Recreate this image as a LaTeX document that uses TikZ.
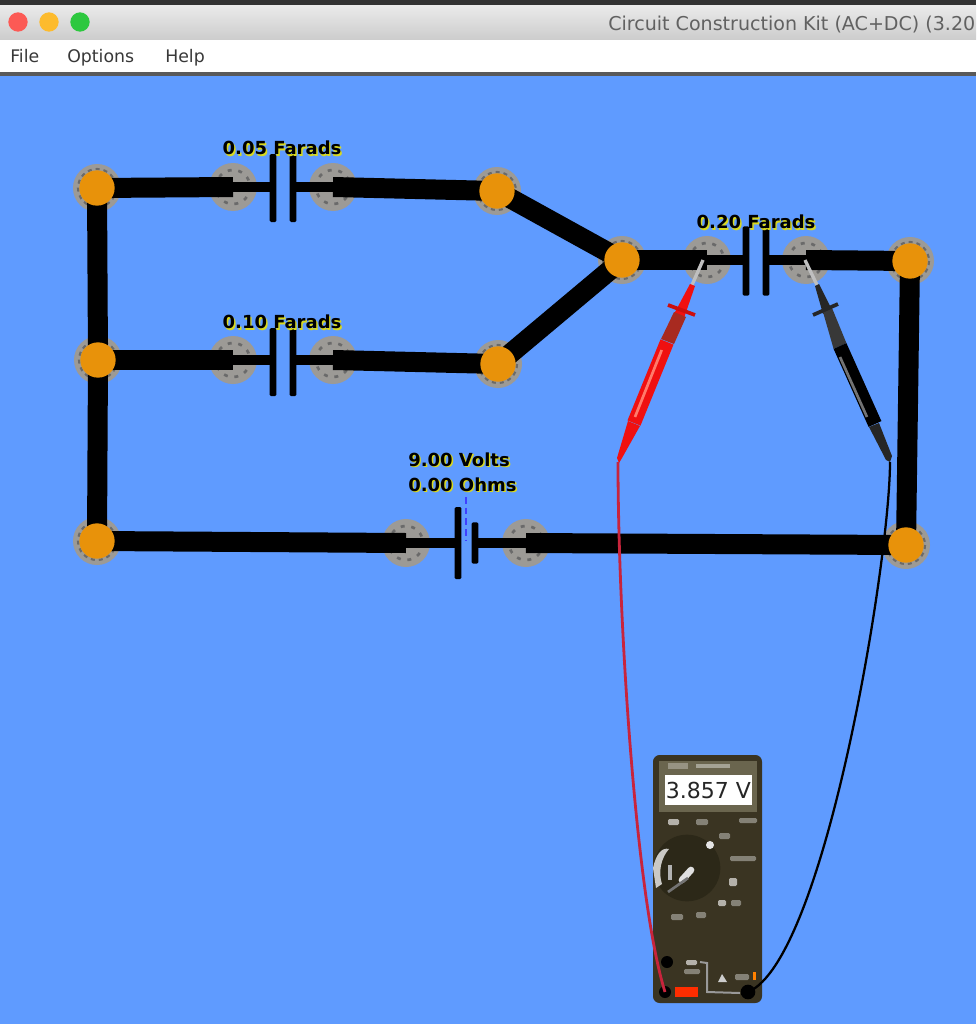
\documentclass[tikz,border=0pt]{standalone}
\usepackage{fontspec}
\setmainfont{DejaVu Sans}
\usetikzlibrary{calc}
\definecolor{bluebg}{HTML}{5F9BFF}
\definecolor{hubor}{HTML}{E8920A}
\definecolor{ringgr}{HTML}{9C9A96}
\definecolor{dashgr}{HTML}{6A6A6A}
\definecolor{meterbk}{HTML}{3A3422}
\definecolor{meterpn}{HTML}{6A654E}
\definecolor{dialbk}{HTML}{2C2818}
\definecolor{labyl}{HTML}{D8D820}
\definecolor{btnred}{HTML}{FC5A55}
\definecolor{btnyel}{HTML}{FDBB2D}
\definecolor{btngrn}{HTML}{2DC83F}
\definecolor{redwire}{HTML}{C8243C}
\definecolor{redprobe}{HTML}{F01010}
\definecolor{redshade}{HTML}{A82A20}
\definecolor{redlight}{HTML}{FF7A6A}
\tikzset{
  x=.75pt,y=-.75pt,
  ringnode/.style={circle,fill=ringgr,inner sep=0pt,minimum size=36pt},
  termnode/.style={circle,fill=ringgr,inner sep=0pt,minimum size=36pt},
  hubnode/.style={circle,fill=hubor,inner sep=0pt,minimum size=26.5pt},
  termdots/.style={draw=dashgr,line width=2pt,dash pattern=on 3pt off 5pt},
  hubdots/.style={draw=dashgr,line width=1.6pt,dash pattern=on 3pt off 3pt},
  wire/.style={line width=15pt,black},
  lead/.style={line width=7pt,black},
  plate/.style={fill=black,inner sep=0pt,minimum width=5pt,rounded corners=1pt},
  vlabel/.style={font=\bfseries\fontsize{13.5}{15}\selectfont,inner sep=0pt,text=black},
  menuitem/.style={font=\fontsize{13}{14}\selectfont,text=black!78,inner sep=0pt,anchor=base west},
  glow/.style={fill=white,opacity=.62,rounded corners=1pt},
  dimglow/.style={fill=white,opacity=.38,rounded corners=1pt},
}
\newcommand{\halo}[1]{\rlap{\kern1.1pt\raisebox{-1.1pt}{\textcolor{labyl}{#1}}}#1}
\begin{document}
\begin{tikzpicture}
\useasboundingbox (0,0) rectangle (976,1024);
\fill[bluebg] (0,0) rectangle (976,1024);
% window chrome
\shade[top color=white!92!black,bottom color=white!80!black] (0,5) rectangle (976,40);
\fill[black!80] (0,0) rectangle (976,5);
\fill[white] (0,40) rectangle (976,72);
\fill[black!65] (0,72) rectangle (976,76);
\node[circle,fill=btnred,minimum size=14.5pt,inner sep=0pt] (btnr) at (18,22) {};
\node[circle,fill=btnyel,minimum size=14.5pt,inner sep=0pt] (btny) at (49,22) {};
\node[circle,fill=btngrn,minimum size=14.5pt,inner sep=0pt] (btng) at (80,22) {};
\begin{scope}
\clip (0,0) rectangle (976,1024);
\node[font=\fontsize{14.3}{16}\selectfont,text=black!62,inner sep=0pt,anchor=base west] (title) at (608,31) {Circuit Construction Kit (AC+DC) (3.20};
\end{scope}
\node[menuitem] (mfile) at (10,63) {File};
\node[menuitem] (mopt) at (67,63) {Options};
\node[menuitem] (mhelp) at (165,63) {Help};
% rings at junctions
\foreach \n/\x/\y in {r1/97/188,r2/497/191,r3/622/260,r4/910/261,r5/98/360,r6/498/364,r7/97/541,r8/906/545}{
  \node[ringnode] (\n) at (\x,\y) {};
  \draw[hubdots] (\x,\y) circle (19);
}
% capacitor/battery terminals
\foreach \n/\x/\y in {a1/233/187,a2/333/187,b1/233/360,b2/333/360,c1/707/260,c2/806/260,d1/406/543,d2/526/543}{
  \node[termnode] (\n) at (\x,\y) {};
  \draw[termdots] (\x,\y) circle (17);
}
% plates
\node[plate,minimum height=51pt] (pa1) at (273,188) {};
\node[plate,minimum height=51pt] (pa2) at (293,188) {};
\node[plate,minimum height=51pt] (pb1) at (273,362) {};
\node[plate,minimum height=51pt] (pb2) at (293,362) {};
\node[plate,minimum height=52pt] (pc1) at (746,261) {};
\node[plate,minimum height=52pt] (pc2) at (766,261) {};
\node[plate,minimum height=54pt] (pd1) at (458,543) {};
\node[plate,minimum height=31pt] (pd2) at (475,543) {};
% leads
\draw[lead] (a1.center) -- (a1.center -| pa1.center);
\draw[lead] (a2.center) -- (a2.center -| pa2.center);
\draw[lead] (b1.center) -- (b1.center -| pb1.center);
\draw[lead] (b2.center) -- (b2.center -| pb2.center);
\draw[lead] (c1.center) -- (c1.center -| pc1.center);
\draw[lead] (c2.center) -- (c2.center -| pc2.center);
\draw[lead] (d1.center) -- (d1.center -| pd1.center);
\draw[lead] (d2.center) -- (d2.center -| pd2.center);
% wires
\draw[wire] (r1.center) -- (a1.center);
\draw[wire] (a2.center) -- (r2.center);
\draw[wire] (r2.center) -- (r3.center);
\draw[wire] (r3.center) -- (c1.center);
\draw[wire] (c2.center) -- (r4.center);
\draw[wire] (r4.center) -- (r8.center);
\draw[wire] (r8.center) -- (d2.center);
\draw[wire] (d1.center) -- (r7.center);
\draw[wire] (r7.center) -- (r5.center);
\draw[wire] (r5.center) -- (r1.center);
\draw[wire] (r5.center) -- (b1.center);
\draw[wire] (b2.center) -- (r6.center);
\draw[wire] (r6.center) -- (r3.center);
% hubs
\foreach \n/\x/\y in {h1/97/188,h2/497/191,h3/622/260,h4/910/261,h5/98/360,h6/498/364,h7/97/541,h8/906/545}{
  \node[hubnode] (\n) at (\x,\y) {};
}
% battery charge marks
\draw[blue!75!white,line width=2pt,dash pattern=on 5pt off 3pt] (466,497) -- (466,540);
% value labels
\node[vlabel] (la) at (282,149) {\halo{0.05 Farads}};
\node[vlabel] (lb) at (282,323) {\halo{0.10 Farads}};
\node[vlabel] (lc) at (756,223) {\halo{0.20 Farads}};
\node[vlabel,anchor=base west] (ld) at (408,466) {\halo{9.00 Volts}};
\node[vlabel,anchor=base west] (le) at (408,491) {\halo{0.00 Ohms}};
% meter
\fill[meterbk,rounded corners=5pt] (653,755) rectangle (762,1003);
\fill[meterpn] (659,761) rectangle (757,812);
\node[fill=white,inner sep=0pt,minimum width=65pt,minimum height=23pt,font=\fontsize{16.5}{18}\selectfont,text=black!85] (disp) at (708.5,790) {3.857 V};
\fill[meterpn!70!white] (668,763) rectangle (688,769);
\fill[meterpn!60!white] (696,764) rectangle (730,768);
\node[circle,fill=dialbk,minimum size=50pt,inner sep=0pt] (dial) at (687,868) {};
\fill[white,opacity=.75] (653,868) .. controls (656,854) and (662,847) .. (669,849) .. controls (661,858) and (658,872) .. (662,884) -- (656,888) -- cycle;
\draw[white!88!black,line width=5pt,line cap=round] (682,880) -- (691,870);
\draw[white!45!black,line width=2pt] (668,892) -- (688,878);
\draw[white!70!black,line width=3pt] (670,865) -- (670,880);
\node[circle,fill=white!90!black,minimum size=6pt,inner sep=0pt] (dialdot) at (710,845) {};
\foreach \xa/\ya/\xb/\yb/\st in {
 668/819/679/825/glow, 696/819/708/825/dimglow, 739/818/757/823/dimglow,
 719/833/730/839/dimglow, 730/856/756/861/dimglow, 729/878/737/886/glow,
 718/900/726/906/glow, 731/900/741/906/dimglow, 671/914/683/920/dimglow, 696/912/706/918/dimglow,
 686/960/697/965/glow, 684/969/700/974/dimglow, 735/974/749/980/dimglow}{
  \fill[\st] (\xa,\ya) rectangle (\xb,\yb);
}
\draw[white!60!black,line width=1.5pt] (700,962) -- (707,963) -- (707,992) -- (740,993);
\fill[white!80!black] (718,982) -- (722,974) -- (727,982) -- cycle;
\fill[red!65!orange] (675,987) rectangle (698,997);
\fill[orange] (753,972) rectangle (756,980);
\node[circle,fill=black,minimum size=9pt,inner sep=0pt] (port0) at (667,962) {};
\node[circle,fill=black,minimum size=9pt,inner sep=0pt] (port1) at (665,992) {};
\node[circle,fill=black,minimum size=11pt,inner sep=0pt] (port2) at (748,992) {};
% probes: red
\coordinate (redtip) at (703,260);
\coordinate (redend) at (618,462);
\draw[white!75!black,line width=2.5pt] (redtip) -- (692,285);
\fill[redprobe] (690,284) -- (695,286) -- (684,318) -- (674,314) -- cycle;
\fill[redshade] (674,312) -- (686,317) -- (674,344) -- (661,339) -- cycle;
\draw[redprobe!85!black,line width=2.8pt] (668,305) -- (695,315);
\fill[redprobe] (660.5,339.4) -- (673.5,344.6) -- (640.5,425.6) -- (627.5,420.4) -- cycle;
\draw[redlight,line width=2pt] (661.7,350) -- (635,417);
\fill[redprobe] (628,421) -- (640,426) -- (622,458) -- (619,463) -- (617,458) -- cycle;
\draw[redwire,line width=2.1pt] (redend) .. controls (618,620) and (636,900) .. (port1.center);
% probes: black
\coordinate (blacktip) at (805,260);
\coordinate (blackend) at (890,462);
\draw[white!75!black,line width=2.5pt] (blacktip) -- (817,285);
\fill[black!85] (815,286) -- (819,284) -- (832,310) -- (823,314) -- cycle;
\fill[black!78] (823,312) -- (832,308) -- (846.4,343.1) -- (833.6,348.9) -- cycle;
\draw[black!85,line width=2.8pt] (813,315) -- (838,304);
\fill[black] (833.6,348.9) -- (846.4,343.1) -- (881.4,421.1) -- (868.6,426.9) -- cycle;
\draw[white!45!black,line width=2pt] (840,357) -- (867,417);
\fill[black!85] (869,427) -- (879,423) -- (892,456) -- (890,462) -- (886,460) -- cycle;
\draw[black,line width=1.7pt] (blackend) .. controls (890,560) and (825,960) .. (port2.center);
\end{tikzpicture}
\end{document}
